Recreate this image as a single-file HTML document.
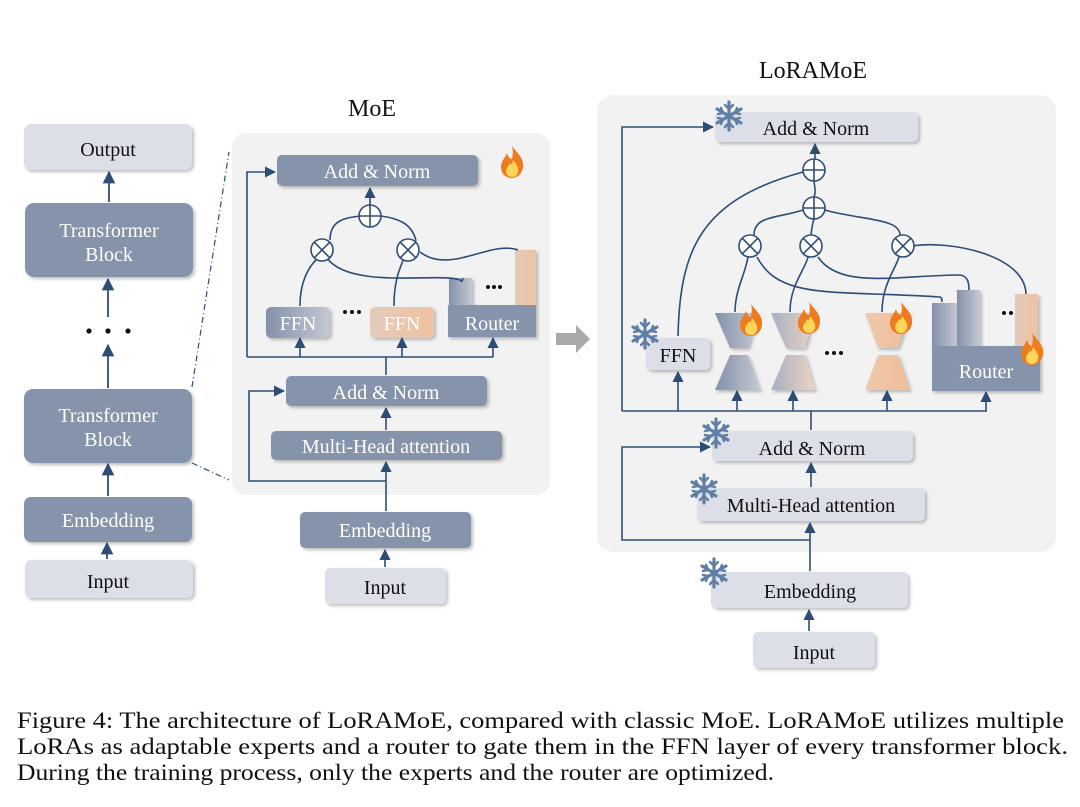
<!DOCTYPE html>
<html><head><meta charset="utf-8"><style>
html,body{margin:0;padding:0;background:#fff;}
svg{display:block;}
text{font-family:"Liberation Serif",serif;}
</style></head><body>
<svg width="1080" height="807" viewBox="0 0 1080 807" xmlns="http://www.w3.org/2000/svg">
<defs>
<marker id="ar" viewBox="0 0 10 10" refX="9" refY="5" markerWidth="7" markerHeight="7" orient="auto-start-reverse"><path d="M0,0 L10,5 L0,10 z" fill="#2e4d76"/></marker>
<linearGradient id="gb" x1="0" x2="1"><stop offset="0" stop-color="#8391aa"/><stop offset="1" stop-color="#c3c8d3"/></linearGradient>
<linearGradient id="go" x1="0" x2="1"><stop offset="0" stop-color="#e3cbbb"/><stop offset="1" stop-color="#efc2a0"/></linearGradient>
<linearGradient id="gbo" x1="0" x2="1"><stop offset="0" stop-color="#a7b0c2"/><stop offset="1" stop-color="#ecd3c3"/></linearGradient>
<linearGradient id="gob" x1="0" x2="1"><stop offset="0" stop-color="#eec9ad"/><stop offset="1" stop-color="#f0bd98"/></linearGradient>
<filter id="sh" x="-10%" y="-20%" width="130%" height="150%"><feDropShadow dx="2" dy="2" stdDeviation="1.5" flood-color="#000" flood-opacity="0.25"/></filter>
<g id="fire"><path d="M0,-16 C6,-8 12,-4 11,5 C10,13 4,16 0,16 C-6,16 -11,12 -11,5 C-11,-1 -7,-4 -5,-9 C-4,-5 -2,-3 0,-3 C1,-8 1,-12 0,-16 z" fill="#f07a1e"/><path d="M1,-2 C5,3 7,7 6,10 C5,14 2,15 0,15 C-3,15 -6,13 -6,9 C-6,6 -3,4 -2,1 C-1,3 0,3 1,-2 z" fill="#ffd65a"/></g>
<g id="snow" stroke="#5f7ea5" stroke-width="3.2" stroke-linecap="round" fill="none"><path d="M0,-14 V14 M-12,-7 L12,7 M-12,7 L12,-7"/><path d="M-4,-11 L0,-7 L4,-11 M-4,11 L0,7 L4,11 M-11,-2 L-6,-3 L-8,-8 M11,2 L6,3 L8,8 M-11,2 L-6,3 L-8,8 M11,-2 L6,-3 L8,-8" stroke-width="2.4"/></g>
<g id="ot"><circle r="11" fill="#fff" stroke="#2e4d76" stroke-width="1.6"/><path d="M-7.8,-7.8 L7.8,7.8 M-7.8,7.8 L7.8,-7.8" stroke="#2e4d76" stroke-width="1.6"/></g>
<g id="op"><circle r="11" fill="#fff" stroke="#2e4d76" stroke-width="1.6"/><path d="M-11,0 H11 M0,-11 V11" stroke="#2e4d76" stroke-width="1.6"/></g>
</defs>

<!-- LEFT COLUMN -->
<g filter="url(#sh)">
<rect x="24" y="124" width="168" height="46" rx="7" fill="#dcdfe7"/>
<rect x="25" y="203" width="168" height="74" rx="9" fill="#8594ab"/>
<rect x="24" y="389" width="168" height="74" rx="9" fill="#8594ab"/>
<rect x="24" y="497" width="168" height="45" rx="7" fill="#8594ab"/>
<rect x="25" y="560" width="168" height="38" rx="6" fill="#dcdfe7"/>
</g>
<g font-size="20" text-anchor="middle">
<text x="108" y="156" fill="#111">Output</text>
<text x="109" y="237" fill="#fff">Transformer</text><text x="109" y="261" fill="#fff">Block</text>
<text x="108" y="422" fill="#fff">Transformer</text><text x="108" y="446" fill="#fff">Block</text>
<text x="108" y="527" fill="#fff">Embedding</text>
<text x="108" y="588" fill="#111">Input</text>
</g>
<g stroke="#2e4d76" stroke-width="1.8" fill="none" marker-end="url(#ar)">
<path d="M109,202 V172"/><path d="M108,317 V279"/><path d="M108,388 V345"/><path d="M108,496 V464"/><path d="M107,559 V543"/>
</g>
<circle cx="89" cy="331" r="2.6" fill="#111"/><circle cx="108" cy="331" r="2.6" fill="#111"/><circle cx="128" cy="331" r="2.6" fill="#111"/>
<path d="M192,387 L229,152" stroke="#2e4d76" stroke-width="1.2" stroke-dasharray="6,3,1,3" fill="none"/>
<path d="M192,463 L229,480" stroke="#2e4d76" stroke-width="1.2" stroke-dasharray="6,3,1,3" fill="none"/>

<!-- MoE PANEL -->
<rect x="232" y="133" width="318" height="362" rx="14" fill="#f2f2f2"/>
<text x="372" y="116" font-size="24" text-anchor="middle" fill="#111">MoE</text>
<g filter="url(#sh)">
<rect x="277" y="155" width="201" height="31" rx="5" fill="#8594ab"/>
<rect x="266" y="307" width="64" height="31" rx="5" fill="url(#gb)"/>
<rect x="370" y="307" width="64" height="31" rx="5" fill="url(#go)"/>
<rect x="449" y="278" width="23" height="30" fill="url(#gb)"/>
<rect x="515" y="250" width="21" height="58" fill="url(#go)"/>
<rect x="448" y="305" width="88" height="32" fill="#8594ab"/>
<rect x="286" y="376" width="201" height="30" rx="5" fill="#8594ab"/>
<rect x="271" y="431" width="231" height="29" rx="5" fill="#8594ab"/>
<rect x="300" y="512" width="171" height="36" rx="5" fill="#8594ab"/>
<rect x="325" y="568" width="121" height="36" rx="5" fill="#dcdfe7"/>
</g>
<g font-size="20" text-anchor="middle" fill="#fff">
<text x="377" y="178">Add &amp; Norm</text>
<text x="298" y="330">FFN</text>
<text x="402" y="330">FFN</text>
<text x="492" y="330">Router</text>
<text x="386" y="399">Add &amp; Norm</text>
<text x="386" y="453">Multi-Head attention</text>
<text x="385" y="537">Embedding</text>
<text x="385" y="594" fill="#111">Input</text>
</g>
<use href="#fire" x="512" y="162"/>
<g fill="#111"><circle cx="345" cy="312" r="2"/><circle cx="352" cy="312" r="2"/><circle cx="359" cy="312" r="2"/>
<circle cx="488" cy="287" r="2"/><circle cx="494" cy="287" r="2"/><circle cx="500" cy="287" r="2"/></g>
<g stroke="#2e4d76" stroke-width="1.6" fill="none">
<path d="M300,306 C300,280 310,265 318,258"/>
<path d="M394,306 C394,280 400,268 404,258"/>
<path d="M330,240 C330,220 345,218 360,216"/>
<path d="M416,241 C412,222 395,218 381,216"/>
<path d="M327,258 C350,290 440,272 460,280 C462,282 462,282 463,278"/>
<path d="M420,252 C450,275 490,240 518,250"/>
<path d="M247,357 H493"/>
<path d="M247,357 V172 H275" marker-end="url(#ar)"/>
<path d="M300,357 V338" marker-end="url(#ar)"/>
<path d="M402,357 V338" marker-end="url(#ar)"/>
<path d="M493,357 V338" marker-end="url(#ar)"/>
<path d="M386,375 V357"/>
<path d="M370,205 V188" marker-end="url(#ar)"/>
<path d="M386,430 V408" marker-end="url(#ar)"/>
<path d="M386,511 V462" marker-end="url(#ar)"/>
<path d="M386,481 H249 V391 H284" marker-end="url(#ar)"/>
<path d="M385,567 V550" marker-end="url(#ar)"/>
</g>
<use href="#op" x="370" y="216"/>
<use href="#ot" x="322" y="250"/>
<use href="#ot" x="408" y="250"/>

<!-- gray arrow -->
<path d="M556,333 H576 V325 L590,339 L576,353 V345 H556 z" fill="#a9a9a9"/>

<!-- LoRAMoE PANEL -->
<rect x="597" y="95" width="459" height="457" rx="16" fill="#f2f2f2"/>
<text x="813" y="78" font-size="24" text-anchor="middle" fill="#111">LoRAMoE</text>
<g filter="url(#sh)">
<rect x="715" y="112" width="203" height="30" rx="5" fill="#dcdfe7"/>
<rect x="646" y="338" width="64" height="32" rx="5" fill="#dcdfe7"/>
<path d="M715,313 H758 L748,348 H730 z" fill="url(#gb)"/>
<path d="M730,355 H748 L760,390 H715 z" fill="url(#gb)"/>
<path d="M771,313 H815 L805,348 H786 z" fill="url(#gbo)"/>
<path d="M786,355 H805 L815,390 H771 z" fill="url(#gbo)"/>
<path d="M865,313 H910 L898,348 H878 z" fill="url(#gob)"/>
<path d="M878,355 H898 L910,390 H865 z" fill="url(#gob)"/>
<rect x="932" y="303" width="25" height="44" fill="url(#gb)"/>
<rect x="957" y="290" width="23" height="57" fill="url(#gb)"/>
<rect x="1015" y="294" width="23" height="53" fill="url(#go)"/>
<rect x="932" y="346" width="108" height="45" fill="#8594ab"/>
<rect x="712" y="431" width="201" height="30" rx="5" fill="#dcdfe7"/>
<rect x="697" y="488" width="228" height="33" rx="5" fill="#dcdfe7"/>
<rect x="711" y="572" width="197" height="36" rx="5" fill="#dcdfe7"/>
<rect x="753" y="632" width="122" height="36" rx="5" fill="#dcdfe7"/>
</g>
<g font-size="20" text-anchor="middle" fill="#111">
<text x="816" y="135">Add &amp; Norm</text>
<text x="678" y="362">FFN</text>
<text x="986" y="378" fill="#fff">Router</text>
<text x="812" y="455">Add &amp; Norm</text>
<text x="811" y="512">Multi-Head attention</text>
<text x="810" y="598">Embedding</text>
<text x="814" y="659">Input</text>
</g>
<g fill="#111"><circle cx="827" cy="353" r="2"/><circle cx="834" cy="353" r="2"/><circle cx="841" cy="353" r="2"/>
<circle cx="1004" cy="313" r="2"/><circle cx="1011" cy="313" r="2"/></g>
<g stroke="#2e4d76" stroke-width="1.6" fill="none">
<path d="M678,336 C680,250 700,200 803,172"/>
<path d="M814,181 C815,190 816,192 814,197"/>
<path d="M735,312 C735,290 745,275 748,257"/>
<path d="M790,312 C790,285 805,270 808,257"/>
<path d="M882,312 C882,285 895,270 899,257"/>
<path d="M754,235 C754,215 780,218 803,210"/>
<path d="M811,235 C812,225 813,222 814,219"/>
<path d="M900,235 C900,218 860,220 825,210"/>
<path d="M757,257 C780,300 830,290 940,297 C942,298 942,300 942,302"/>
<path d="M818,257 C840,290 900,275 960,275 C968,276 969,283 969,290"/>
<path d="M912,246 C950,240 1025,255 1026,294"/>
<path d="M622,411 H987"/>
<path d="M622,411 V127 H713" marker-end="url(#ar)"/>
<path d="M678,411 V372" marker-end="url(#ar)"/>
<path d="M737,411 V391" marker-end="url(#ar)"/>
<path d="M793,411 V391" marker-end="url(#ar)"/>
<path d="M887,411 V391" marker-end="url(#ar)"/>
<path d="M986,411 V392" marker-end="url(#ar)"/>
<path d="M811,430 V411"/>
<path d="M815,159 V144" marker-end="url(#ar)"/>
<path d="M811,487 V463" marker-end="url(#ar)"/>
<path d="M810,571 V523" marker-end="url(#ar)"/>
<path d="M810,540 H622 V447 H710" marker-end="url(#ar)"/>
<path d="M809,631 V610" marker-end="url(#ar)"/>
</g>
<use href="#op" x="814" y="170"/>
<use href="#op" x="814" y="208"/>
<use href="#ot" x="750" y="246"/>
<use href="#ot" x="811" y="246"/>
<use href="#ot" x="903" y="246"/>
<use href="#fire" x="751" y="320"/>
<use href="#fire" x="809" y="318"/>
<use href="#fire" x="901" y="318"/>
<use href="#fire" x="1032" y="349"/>
<use href="#snow" x="729" y="116"/>
<use href="#snow" x="645" y="334"/>
<use href="#snow" x="716" y="433"/>
<use href="#snow" x="704" y="489"/>
<use href="#snow" x="714" y="573"/>

<!-- CAPTION -->
<g font-size="23" fill="#111">
<text x="17" y="728" textLength="1047" lengthAdjust="spacingAndGlyphs">Figure 4: The architecture of LoRAMoE, compared with classic MoE. LoRAMoE utilizes multiple</text>
<text x="17" y="754" textLength="1051" lengthAdjust="spacingAndGlyphs">LoRAs as adaptable experts and a router to gate them in the FFN layer of every transformer block.</text>
<text x="17" y="780" textLength="757" lengthAdjust="spacingAndGlyphs">During the training process, only the experts and the router are optimized.</text>
</g>
</svg>
</body></html>
